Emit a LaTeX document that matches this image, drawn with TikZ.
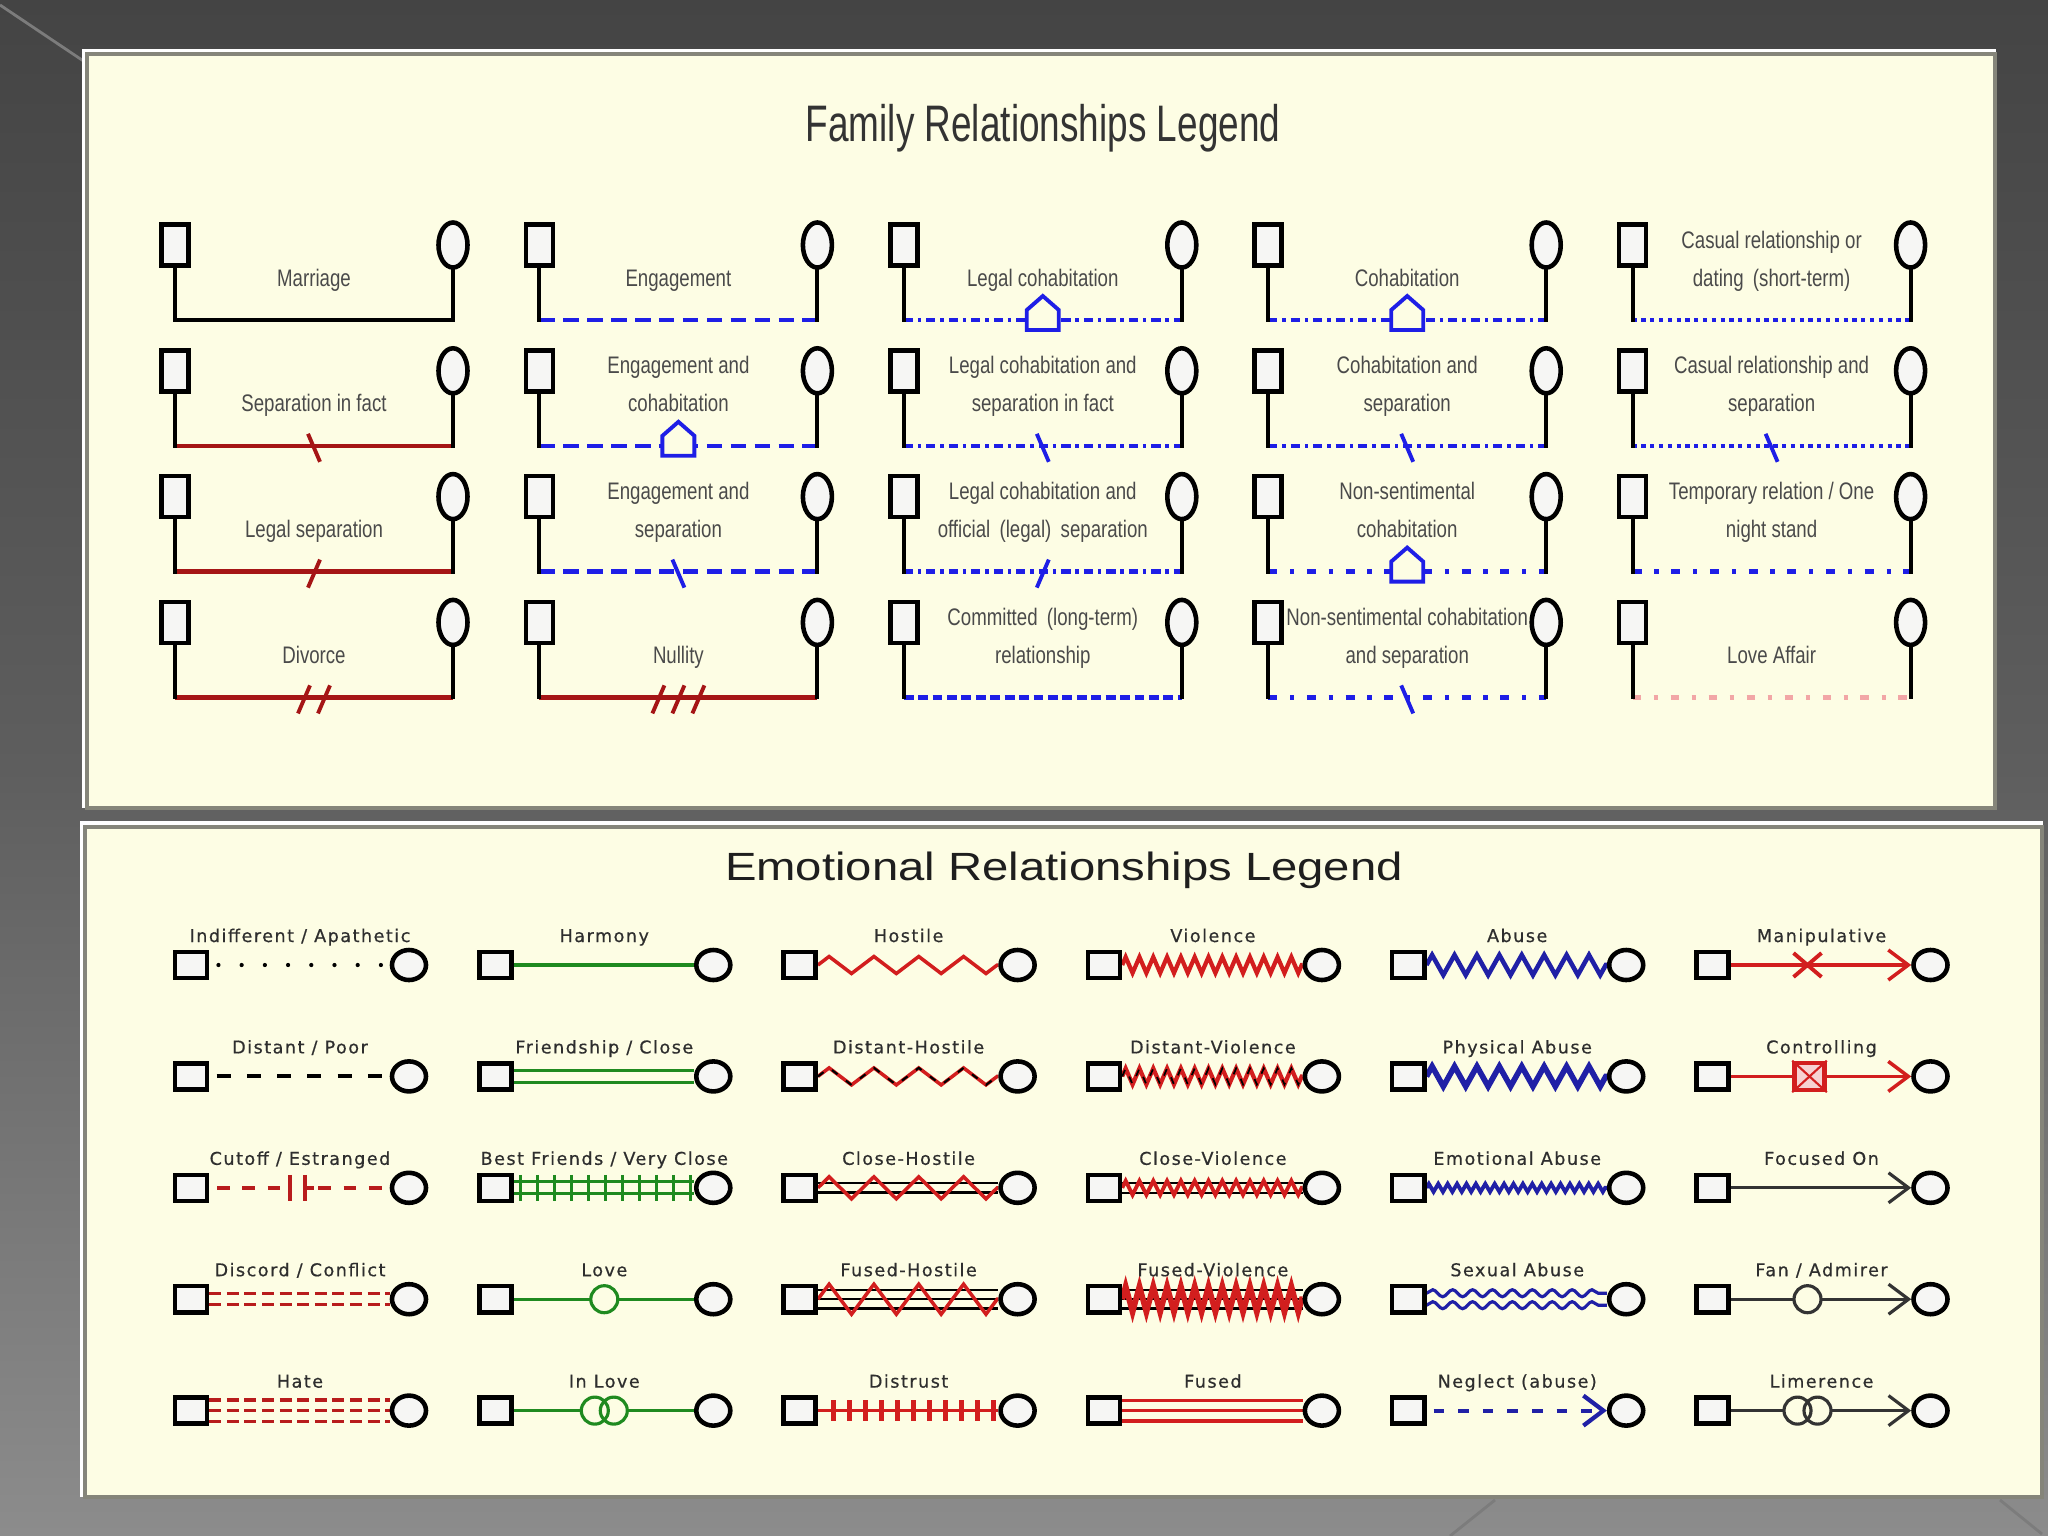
\documentclass[tikz,border=0pt]{standalone}
\usepackage{fontspec}
\setmainfont{Liberation Sans}
\newfontfamily\emofont[LetterSpace=8.5,FakeBold=0.6]{DejaVu Sans}
\usetikzlibrary{shapes.geometric,decorations.pathmorphing,arrows.meta}
\definecolor{cream}{HTML}{FDFDE4}
\definecolor{shapefill}{HTML}{F6F6F4}
\definecolor{fred}{HTML}{A51515}
\definecolor{fblue}{HTML}{1E1EE6}
\definecolor{fpink}{HTML}{F2A6A6}
\definecolor{flabc}{HTML}{4A4A4A}
\definecolor{ftitc}{HTML}{333333}
\definecolor{etitc}{HTML}{1E1E1E}
\definecolor{elabc}{HTML}{2E2E2E}
\definecolor{ered}{HTML}{D21E1E}
\definecolor{edred}{HTML}{B81C1C}
\definecolor{egreen}{HTML}{1F8A1F}
\definecolor{enavy}{HTML}{2020A6}
\definecolor{edark}{HTML}{333333}
\definecolor{bgtop}{HTML}{444444}
\definecolor{bgmid}{HTML}{5E5E5E}
\definecolor{bgbot}{HTML}{8C8C8C}
\definecolor{diagc}{HTML}{7C7C7C}
\definecolor{pedge}{HTML}{85857A}
\definecolor{ctrlfill}{HTML}{F6D2D2}
\pgfdeclarelayer{bg}
\pgfdeclarelayer{lines}
\pgfsetlayers{bg,lines,main}
\tikzset{
 fsq/.style={rectangle, draw=black, line width=1.3pt, fill=shapefill, minimum width=0.27cm, minimum height=0.41cm, inner sep=0pt},
 fci/.style={ellipse, draw=black, line width=1.3pt, fill=shapefill, minimum width=0.29cm, minimum height=0.45cm, inner sep=0pt},
 stem/.style={draw=black, line width=1.15pt, line cap=rect},
 fln/.style={line width=1.25pt},
 fblack/.style={fln, draw=black},
 fredl/.style={fln, draw=fred},
 fbdash/.style={fln, draw=fblue, dash pattern=on 4.4pt off 2.4pt},
 fbdd/.style={fln, draw=fblue, dash pattern=on 2.6pt off 1.4pt on 1pt off 1.4pt},
 fbdot/.style={fln, draw=fblue, dash pattern=on 1.2pt off 1.3pt},
 fbshort/.style={fln, draw=fblue, dash pattern=on 2.8pt off 1.3pt},
 fbsparse/.style={fln, draw=fblue, dash pattern=on 2.6pt off 3.6pt on 1.2pt off 3.6pt},
 fpinkl/.style={fln, draw=fpink, dash pattern=on 2.4pt off 3.6pt on 1.2pt off 3.6pt},
 house/.style={draw=fblue, line width=1.1pt, fill=cream, line join=miter},
 flab/.style={font=\fontsize{6.8}{8}\selectfont, text=flabc, xscale=0.78, inner sep=0pt, anchor=base},
 esq/.style={rectangle, draw=black, line width=1.3pt, fill=shapefill, minimum width=0.32cm, minimum height=0.26cm, inner sep=0pt},
 eci/.style={ellipse, draw=black, line width=1.3pt, fill=shapefill, minimum width=0.34cm, minimum height=0.30cm, inner sep=0pt},
 elab/.style={font=\emofont\fontsize{5}{6}\selectfont, text=elabc, inner sep=0pt, anchor=base},
 sh/.style={transform canvas={yshift=#1}},
 ebarb/.style={-{Straight Barb[length=0.2cm, width=0.3cm]}},
 zz/.style 2 args={decorate, decoration={zigzag, segment length=#1, amplitude=#2}},
 lovec/.style={circle, line width=0.9pt, minimum size=0.27cm, inner sep=0pt},
 ctrl/.style={rectangle, draw=ered, line width=1.3pt, fill=ctrlfill, minimum width=0.3cm, minimum height=0.27cm, inner sep=0pt},
}
% family cell: col, row, line style, label line 1, label line 2, marks
\newcommand{\famcell}[6]{%
  \pgfmathsetmacro\sx{175+364.4*#1}%
  \pgfmathsetmacro\cx{453+364.4*#1}%
  \pgfmathsetmacro\mx{(\sx+\cx)/2}%
  \pgfmathsetmacro\ry{245+125.8*#2}%
  \pgfmathsetmacro\ly{320+125.8*#2}%
  \pgfmathsetmacro\tya{248+125.8*#2}%
  \pgfmathsetmacro\tyb{286+125.8*#2}%
  \node[fsq] (fs-#1-#2) at (\sx,\ry) {};
  \node[fci] (fc-#1-#2) at (\cx,\ry) {};
  \coordinate (fl-#1-#2) at (\sx,\ly);
  \coordinate (fr-#1-#2) at (\cx,\ly);
  \begin{pgfonlayer}{lines}
  \draw[#3] (fl-#1-#2) -- (fr-#1-#2);
  \draw[stem] (fs-#1-#2.south) -- (fl-#1-#2);
  \draw[stem] (fc-#1-#2.south) -- (fr-#1-#2);
  #6
  \end{pgfonlayer}
  \if\relax\detokenize{#4}\relax\else
  \node[flab] (fta-#1-#2) at (\mx,\tya) {#4};\fi
  \node[flab] (ftb-#1-#2) at (\mx,\tyb) {#5};
}
\newcommand{\fhouse}{\draw[house] (\mx-16,\ly+10) -- (\mx+16,\ly+10) -- (\mx+16,\ly-10) -- (\mx,\ly-24) -- (\mx-16,\ly-10) -- cycle;}
\newcommand{\fbs}[2][0]{\draw[#2, line width=1.1pt] ({\mx-6+(#1)},\ly-12) -- ({\mx+6+(#1)},\ly+16);}
\newcommand{\ffs}[2][0]{\draw[#2, line width=1.1pt] ({\mx+6+(#1)},\ly-12) -- ({\mx-6+(#1)},\ly+16);}
% emotional cell: col, row, label, drawing
\newcommand{\emocell}[4]{%
  \pgfmathsetmacro\ex{191+304.3*#1}%
  \pgfmathsetmacro\ecx{409+304.3*#1}%
  \pgfmathsetmacro\ey{965+111.4*#2}%
  \pgfmathsetmacro\emx{(\ex+\ecx)/2}%
  \pgfmathsetmacro\ety{\ey-23}%
  \node[esq] (es-#1-#2) at (\ex,\ey) {};
  \node[eci] (ec-#1-#2) at (\ecx,\ey) {};
  \node[elab] (et-#1-#2) at (\emx,\ety) {#3};
  \def\esn{es-#1-#2}\def\ecn{ec-#1-#2}%
  \begin{pgfonlayer}{lines}#4\end{pgfonlayer}%
}
\newcommand{\conn}[1][]{\draw[#1] (\esn) -- (\ecn);}
\begin{document}
\begin{tikzpicture}[x=0.01cm, y=-0.01cm]
\useasboundingbox (0,0) rectangle (2048,1536);
\begin{pgfonlayer}{bg}
\shade[top color=bgtop, bottom color=bgbot, middle color=bgmid] (0,0) rectangle (2048,1536);
\draw[diagc, line width=0.8pt] (0,5) -- (85,62);
\draw[diagc, line width=0.8pt] (1450,1536) -- (1495,1500);
\draw[diagc, line width=0.8pt] (2000,1500) -- (2042,1534);
\draw[white, line width=1.2pt] (84,808) -- (84,51) -- (1996,51);
\filldraw[fill=cream, draw=pedge, line width=1pt] (87,54) rectangle (1995,808);
\draw[white, line width=1.2pt] (82,1497) -- (82,823) -- (2043,823);
\filldraw[fill=cream, draw=pedge, line width=1pt] (85,827) rectangle (2042,1497);
\end{pgfonlayer}

\node[font=\fontsize{14.6}{16}\selectfont, text=ftitc, xscale=0.72, anchor=base, inner sep=0pt] (ftitle) at (1043,141) {Family Relationships Legend};
\node[font=\fontsize{11.2}{13}\selectfont, text=etitc, xscale=1.2, anchor=base, inner sep=0pt] (etitle) at (1064,880) {Emotional Relationships Legend};

% ---------- family ----------
\famcell{0}{0}{fblack}{}{Marriage}{}
\famcell{1}{0}{fbdash}{}{Engagement}{}
\famcell{2}{0}{fbdd}{}{Legal cohabitation}{\fhouse}
\famcell{3}{0}{fbdd}{}{Cohabitation}{\fhouse}
\famcell{4}{0}{fbdot}{Casual relationship or}{dating\enspace(short-term)}{}
\famcell{0}{1}{fredl}{}{Separation in fact}{\fbs{fred}}
\famcell{1}{1}{fbdash}{Engagement and}{cohabitation}{\fhouse}
\famcell{2}{1}{fbdd}{Legal cohabitation and}{separation in fact}{\fbs{fblue}}
\famcell{3}{1}{fbdd}{Cohabitation and}{separation}{\fbs{fblue}}
\famcell{4}{1}{fbdot}{Casual relationship and}{separation}{\fbs{fblue}}
\famcell{0}{2}{fredl}{}{Legal separation}{\ffs{fred}}
\famcell{1}{2}{fbdash}{Engagement and}{separation}{\fbs{fblue}}
\famcell{2}{2}{fbdd}{Legal cohabitation and}{official\enspace(legal)\enspace separation}{\ffs{fblue}}
\famcell{3}{2}{fbsparse}{Non-sentimental}{cohabitation}{\fhouse}
\famcell{4}{2}{fbsparse}{Temporary relation / One}{night stand}{}
\famcell{0}{3}{fredl}{}{Divorce}{\ffs[-10]{fred}\ffs[10]{fred}}
\famcell{1}{3}{fredl}{}{Nullity}{\ffs[-20]{fred}\ffs{fred}\ffs[20]{fred}}
\famcell{2}{3}{fbshort}{Committed\enspace(long-term)}{relationship}{}
\famcell{3}{3}{fbsparse}{Non-sentimental cohabitation}{and separation}{\fbs{fblue}}
\famcell{4}{3}{fpinkl}{}{Love Affair}{}

% ---------- emotional ----------
\emocell{0}{0}{Indifferent / Apathetic}{\conn[black, line width=1.2pt, line cap=round, dash pattern=on 0pt off 6.6pt, dash phase=4pt]}
\emocell{0}{1}{Distant / Poor}{\conn[black, line width=1.1pt, dash pattern=on 4pt off 4.6pt, dash phase=6.5pt]}
\emocell{0}{2}{Cutoff / Estranged}{\conn[edred, line width=1.1pt, dash pattern=on 3.6pt off 3.6pt, dash phase=5pt]
  \fill[cream] (\emx-18,\ey-6) rectangle (\emx+14,\ey+6);
  \draw[edred, line width=1.3pt] (\emx-10,\ey-13) -- (\emx-10,\ey+13) (\emx+5,\ey-13) -- (\emx+5,\ey+13) (\emx+5,\ey) -- (\emx+14,\ey);}
\emocell{0}{3}{Discord / Conflict}{\conn[edred, line width=0.9pt, dash pattern=on 3.4pt off 1.6pt, sh=1.55pt]\conn[edred, line width=0.9pt, dash pattern=on 3.4pt off 1.6pt, sh=-1.55pt]}
\emocell{0}{4}{Hate}{\conn[edred, line width=0.9pt, dash pattern=on 3.4pt off 1.6pt]\conn[edred, line width=0.9pt, dash pattern=on 3.4pt off 1.6pt, sh=3pt]\conn[edred, line width=0.9pt, dash pattern=on 3.4pt off 1.6pt, sh=-3pt]}

\emocell{1}{0}{Harmony}{\conn[egreen, line width=0.9pt]}
\emocell{1}{1}{Friendship / Close}{\conn[egreen, line width=0.9pt, sh=1.7pt]\conn[egreen, line width=0.9pt, sh=-1.7pt]}
\emocell{1}{2}{Best Friends / Very Close}{\conn[egreen, line width=0.9pt, sh=1.7pt]\conn[egreen, line width=0.9pt, sh=-1.7pt]
  \foreach \i in {0,...,10} \draw[egreen, line width=1pt] (\emx-84+17*\i,\ey-13) -- (\emx-84+17*\i,\ey+13);}
\emocell{1}{3}{Love}{\conn[egreen, line width=0.9pt]\node[lovec, draw=egreen, fill=cream] (elove) at (\emx,\ey) {};}
\emocell{1}{4}{In Love}{\conn[egreen, line width=0.9pt]
  \fill[cream] (\emx-9.5,\ey) circle (0.135cm) (\emx+9.5,\ey) circle (0.135cm);
  \node[lovec, draw=egreen] (einlove1) at (\emx-9.5,\ey) {};
  \node[lovec, draw=egreen] (einlove2) at (\emx+9.5,\ey) {};}

\emocell{2}{0}{Hostile}{\conn[ered, line width=1pt, zz={0.448cm}{0.085cm}]}
\emocell{2}{1}{Distant-Hostile}{\conn[ered, line width=1pt, zz={0.448cm}{0.085cm}]\conn[black, line width=0.6pt, zz={0.448cm}{0.085cm}, dash pattern=on 2pt off 3pt]}
\emocell{2}{2}{Close-Hostile}{\conn[black, line width=0.7pt, sh=1.3pt]\conn[black, line width=0.7pt, sh=-1.3pt]\conn[ered, line width=1pt, zz={0.448cm}{0.11cm}]}
\emocell{2}{3}{Fused-Hostile}{\conn[black, line width=0.7pt]\conn[black, line width=0.7pt, sh=2.6pt]\conn[black, line width=0.7pt, sh=-2.6pt]\conn[ered, line width=1pt, zz={0.448cm}{0.15cm}]}
\emocell{2}{4}{Distrust}{\conn[ered, line width=0.8pt]
  \foreach \i in {0,...,10} \draw[ered, line width=1.3pt] (\emx-75+16*\i,\ey-10.5) -- (\emx-75+16*\i,\ey+10.5);}

\emocell{3}{0}{Violence}{\conn[ered, line width=1.2pt, zz={0.138cm}{0.08cm}]}
\emocell{3}{1}{Distant-Violence}{\conn[ered, line width=1.2pt, zz={0.138cm}{0.08cm}]\conn[black, line width=0.5pt, zz={0.138cm}{0.08cm}, dash pattern=on 2pt off 3pt]}
\emocell{3}{2}{Close-Violence}{\conn[black, line width=0.7pt, sh=1.4pt]\conn[black, line width=0.7pt, sh=-1.4pt]\conn[ered, line width=1.1pt, zz={0.138cm}{0.07cm}]}
\emocell{3}{3}{Fused-Violence}{\conn[black, line width=0.7pt]\conn[black, line width=0.7pt, sh=2.6pt]\conn[black, line width=0.7pt, sh=-2.6pt]\conn[ered, line width=1.6pt, zz={0.138cm}{0.13cm}]}
\emocell{3}{4}{Fused}{\conn[ered, line width=1pt]\conn[ered, line width=1pt, sh=2.9pt]\conn[ered, line width=1pt, sh=-2.9pt]}

\emocell{4}{0}{Abuse}{\conn[enavy, line width=1.3pt, zz={0.224cm}{0.1cm}]}
\emocell{4}{1}{Physical Abuse}{\conn[enavy, line width=1.6pt, zz={0.224cm}{0.1cm}]}
\emocell{4}{2}{Emotional Abuse}{\conn[enavy, line width=1.1pt, zz={0.094cm}{0.04cm}]}
\emocell{4}{3}{Sexual Abuse}{\conn[enavy, line width=0.9pt, sh=1.7pt, decorate, decoration={snake, segment length=0.199cm, amplitude=0.035cm}]\conn[enavy, line width=0.9pt, sh=-1.7pt, decorate, decoration={snake, segment length=0.199cm, amplitude=0.035cm}]}
\emocell{4}{4}{Neglect (abuse)}{\conn[enavy, line width=1.2pt, dash pattern=on 3pt off 4pt, dash phase=5pt, ebarb]}

\emocell{5}{0}{Manipulative}{\conn[ered, line width=1pt, ebarb]
  \draw[ered, line width=1.1pt] (\emx-28,\ey-12) -- (\emx,\ey+12) (\emx-28,\ey+12) -- (\emx,\ey-12);}
\emocell{5}{1}{Controlling}{\conn[ered, line width=1pt, ebarb]
  \node[ctrl] (ectrl) at (\emx-12,\ey) {};
  \draw[ered, line width=0.6pt] (ectrl.north west) -- (ectrl.south east) (ectrl.north east) -- (ectrl.south west);}
\emocell{5}{2}{Focused On}{\conn[edark, line width=0.9pt, ebarb]}
\emocell{5}{3}{Fan / Admirer}{\conn[edark, line width=0.9pt, ebarb]\node[lovec, draw=edark, fill=cream] (efan) at (\emx-14,\ey) {};}
\emocell{5}{4}{Limerence}{\conn[edark, line width=0.9pt, ebarb]
  \fill[cream] (\emx-24,\ey) circle (0.135cm) (\emx-4,\ey) circle (0.135cm);
  \node[lovec, draw=edark] (elim1) at (\emx-24,\ey) {};
  \node[lovec, draw=edark] (elim2) at (\emx-4,\ey) {};}
\end{tikzpicture}
\end{document}
